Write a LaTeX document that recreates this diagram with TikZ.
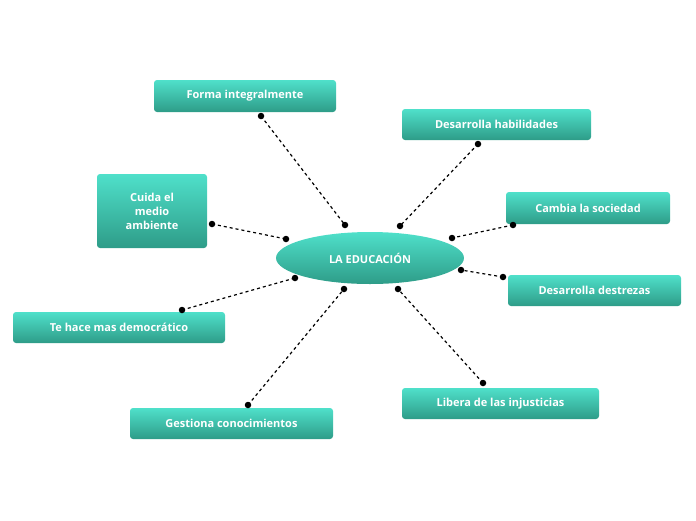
\documentclass[tikz,border=0pt]{standalone}
\usepackage{fontspec}
\setmainfont{Open Sans}
\usetikzlibrary{shapes.geometric}
\definecolor{topc}{HTML}{4FE0CA}
\definecolor{botc}{HTML}{2E9C88}
\tikzset{
  box/.style={rounded corners=3pt, top color=topc, bottom color=botc, draw=none, text=white, font=\bfseries\fontsize{11}{14}\selectfont, inner sep=0pt, align=center},
  conn/.style={densely dashed, line width=1.2pt, dash pattern=on 3pt off 3pt},
  dot/.style={circle, fill=black, inner sep=0pt, minimum size=6.5pt}
}
\begin{document}
\begin{tikzpicture}[x=1pt,y=-1pt]
\useasboundingbox (0,0) rectangle (696,520);
\newcommand{\bx}[6]{\node[box, minimum width={#4-#2}, minimum height={#5-#3}] (#1) at ({(#2+#4)/2},{(#3+#5)/2}) {#6};}
\node[ellipse, top color=topc, bottom color=botc, text=white, minimum width=188pt, minimum height=52pt, inner sep=0pt, font=\bfseries\fontsize{11}{14}\selectfont] (c) at (370,258) {LA EDUCACIÓN};
\bx{b1}{154}{80}{336}{112}{Forma integralmente}
\bx{b2}{402}{109}{591}{140}{Desarrolla habilidades}
\bx{b3}{506}{192}{670}{224}{Cambia la sociedad}
\bx{b4}{508}{275}{681}{306}{Desarrolla destrezas}
\bx{b5}{402}{388}{599}{419}{Libera de las injusticias}
\bx{b6}{130}{408}{333}{439}{Gestiona conocimientos}
\bx{b7}{13}{312}{225}{343}{Te hace mas democrático}
\bx{b8}{97}{174}{207}{248}{Cuida el\\medio\\ambiente}
\foreach \n/\ax/\ay/\bxx/\byy in {1/261/116/345/225, 2/478/144/400/226, 3/513/225/452/238, 4/503/277/461/270, 5/483/383/398/289, 6/248/405/344/289, 7/182/310/295/278, 8/212/224/286/239}{
  \coordinate (p\n) at (\ax,\ay);
  \coordinate (q\n) at (\bxx,\byy);
  \draw[conn] (p\n) -- (q\n);
  \node[dot] at (p\n) {};
  \node[dot] at (q\n) {};
}
\end{tikzpicture}
\end{document}
